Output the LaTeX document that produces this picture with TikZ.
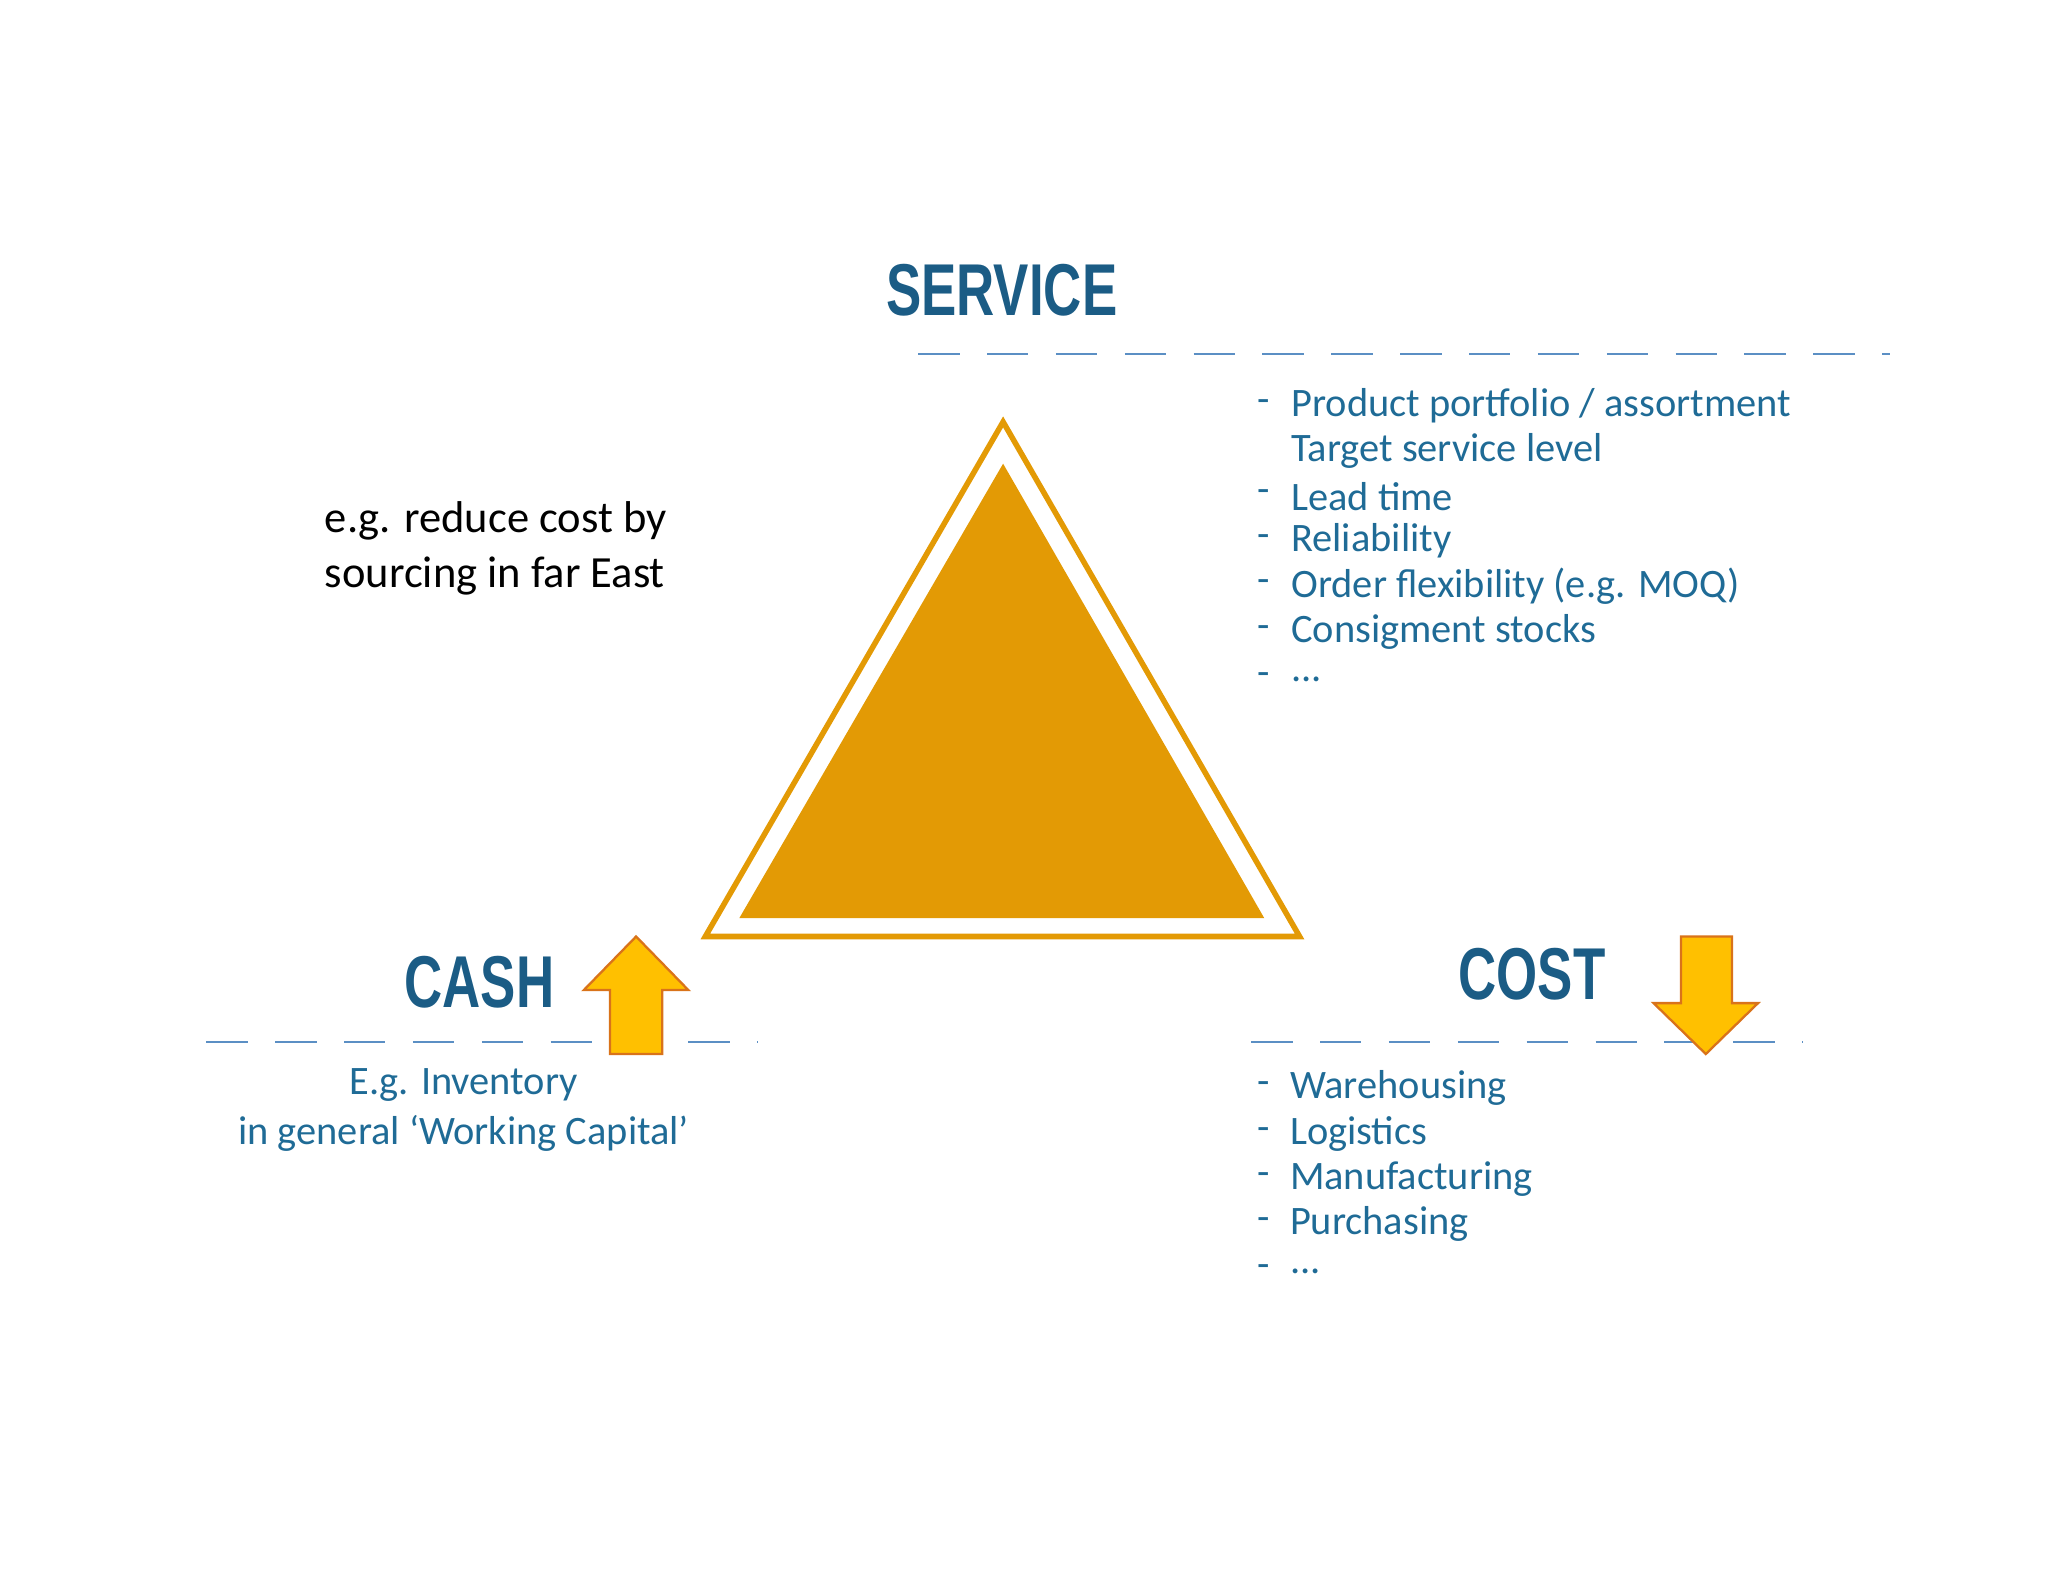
\documentclass[tikz,border=0pt]{standalone}
\usepackage{fontspec}
\setmainfont{Carlito}
\newfontfamily\headfont{Liberation Sans}
\newcommand\mydots{...}
\newcommand\mypp{Product portfolio / assortment}
\definecolor{tri}{HTML}{E39A05}
\definecolor{arrowfill}{HTML}{FFC000}
\definecolor{arrowline}{HTML}{D9731A}
\definecolor{txtblue}{HTML}{1F6B96}
\definecolor{headblue}{HTML}{1B5C85}
\definecolor{dashblue}{HTML}{5B8FC4}
\tikzset{
 listtxt/.style={anchor=west,text=txtblue,font=\fontsize{8.8}{10}\selectfont,inner sep=0},
 heading/.style={text=headblue,font=\headfont\bfseries\fontsize{16}{18}\selectfont,xscale=0.72,inner sep=0},
 dashline/.style={draw=dashblue,dash pattern=on 9 off 6,line width=0.35pt},
 bigarrow/.style={fill=arrowfill,draw=arrowline,line width=0.5pt}
}
\begin{document}
\begin{tikzpicture}[x=0.1mm,y=-0.1mm]
\useasboundingbox (0,0) rectangle (1568,1211);
% triangle
\draw[tri,line width=1.2pt] (540,717) -- (995,717) -- (768,323) -- cycle;
\fill[tri] (566,703) -- (968,703) -- (768,355) -- cycle;
% headings
\node[heading] (service) at (767,222) {SERVICE};
\node[heading] (cash) at (367,752) {CASH};
\node[heading] (cost) at (1173,746) {COST};
% dashed lines
\coordinate (s1) at (703,271); \coordinate (s2) at (1447,271);
\coordinate (c1) at (158,798); \coordinate (c2) at (580,798);
\coordinate (k1) at (958,798); \coordinate (k2) at (1380,798);
\draw[dashline] (s1) -- (s2);
\draw[dashline] (c1) -- (c2);
\draw[dashline] (k1) -- (k2);
% arrows
\draw[bigarrow] (487,717) -- (527,758) -- (507,758) -- (507,807) -- (467,807) -- (467,758) -- (447,758) -- cycle;
\draw[bigarrow] (1306,807) -- (1346,768) -- (1326,768) -- (1326,717) -- (1287,717) -- (1287,768) -- (1266,768) -- cycle;
% service list
\foreach \y/\d/\t [count=\i] in {311/-/\mypp,345//Target service level,380/-/Lead time,414/-/Reliability,449/-/Order flexibility (e.g. MOQ),484/-/Consigment stocks,520/-/\mydots}{
 \node[listtxt] (sd\i) at (962,\y) {\d};
 \node[listtxt] (st\i) at (988,\y) {\t};
}
% cost list
\foreach \y/\t [count=\i] in {833/Warehousing,868/Logistics,903/Manufacturing,937/Purchasing,973/\mydots}{
 \node[listtxt] (cd\i) at (962,\y) {-};
 \node[listtxt] (ct\i) at (987,\y) {\t};
}
% cash text
\node[text=txtblue,font=\fontsize{8.8}{10.9}\selectfont,align=center] (cashtxt) at (355,850) {E.g. Inventory\\in general ‘Working Capital’};
% note
\node[anchor=west,font=\fontsize{9.7}{12}\selectfont,align=left,inner sep=0] (note) at (248,420) {e.g. reduce cost by\\sourcing in far East};
\end{tikzpicture}
\end{document}
